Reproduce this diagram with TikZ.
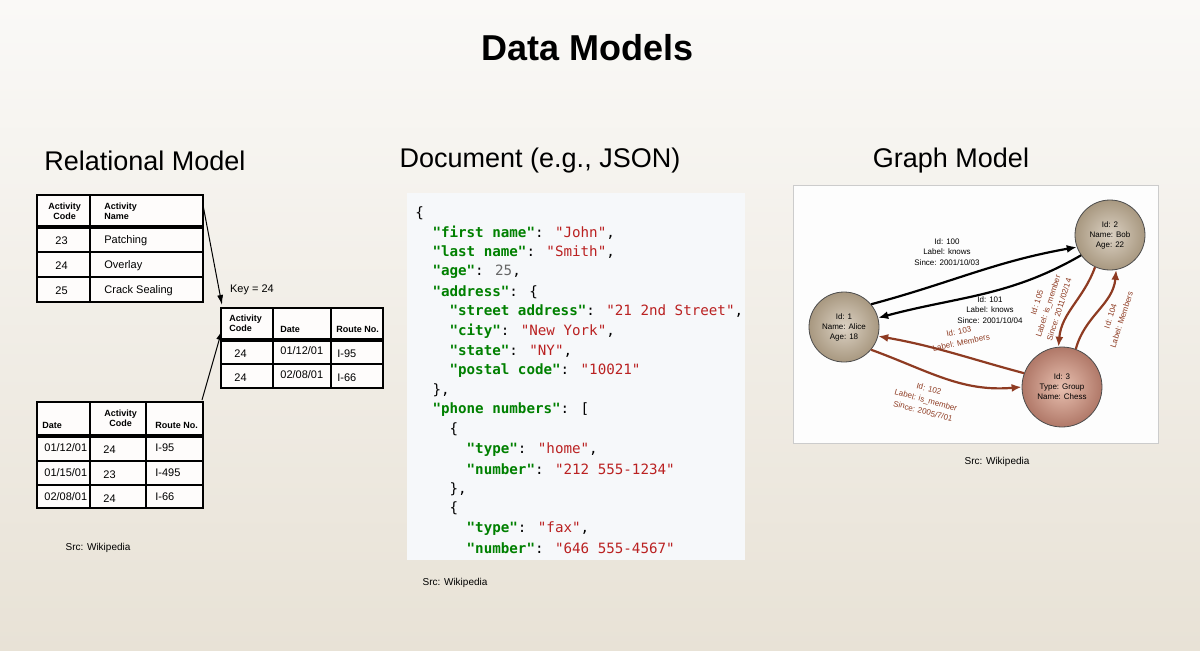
\documentclass[tikz,border=0pt]{standalone}
\usepackage{fontspec}
\setmainfont{Liberation Sans}
\newfontfamily\jmono{DejaVu Sans Mono}
\usetikzlibrary{arrows.meta}
\definecolor{jkey}{HTML}{008000}
\definecolor{jstr}{HTML}{BA2121}
\definecolor{jnum}{HTML}{666666}
\definecolor{brn}{HTML}{8E3B22}
\definecolor{gin}{HTML}{DCD2C4}
\definecolor{gout}{HTML}{A89880}
\definecolor{cin}{HTML}{E8C0B0}
\definecolor{cout}{HTML}{B07868}
\tikzset{
 cell/.style={font=\fontsize{5.5}{6}\selectfont,inner sep=0pt,align=left,anchor=west},
 tbl/.style={draw=black,line width=0.6pt,fill=white!85!brown!15},
 hd/.style={font=\fontsize{13.5}{15}\selectfont},
 src/.style={font=\fontsize{5}{6}\selectfont},
 gn/.style={circle,draw=gray!60!black,line width=0.4pt,font=\fontsize{4}{5}\selectfont,align=center,inner sep=0pt},
 gl/.style={font=\fontsize{4}{5.2}\selectfont,align=center,inner sep=0pt},
 glr/.style={font=\fontsize{4}{5.8}\selectfont,align=center,inner sep=0pt,text=brn},
 ka/.style={-{Latex[length=5pt,width=4pt]},line width=1.1pt},
 ba/.style={-{Latex[length=5pt,width=4pt]},line width=1.1pt,draw=brn},
}
\begin{document}
\begin{tikzpicture}[x=0.5pt,y=-0.5pt]
\shade[top color={rgb,255:red,250;green,249;blue,247}, bottom color={rgb,255:red,232;green,226;blue,214}] (0,0) rectangle (1200,650);
\useasboundingbox (0,0) rectangle (1200,650);
\node[font=\bfseries\fontsize{18}{20}\selectfont] (title) at (588,48) {Data Models};
\node[hd] (h1) at (145,161) {Relational Model};
\node[hd] (h2) at (540,161) {Document (e.g., JSON)};
\node[hd] (h3) at (951,161) {Graph Model};
% table 1
\node[tbl,minimum width=83pt,minimum height=53.5pt,inner sep=0pt] (t1) at (120,248.5) {};
\draw[line width=0.6pt] (90,195)--(90,302) (37,252)--(203,252) (37,277)--(203,277);
\draw[line width=2pt] (37,227)--(203,227);
\node[cell,font=\bfseries\fontsize{4.5}{5}\selectfont,align=center] at (48,211) {Activity\\Code};
\node[cell,font=\bfseries\fontsize{4.5}{5}\selectfont] at (104,211) {Activity\\Name};
\foreach \y/\a/\b in {241/23/Patching,266/24/Overlay,291/25/Crack Sealing}{
 \node[cell] at (55,\y) {\a}; \node[cell] at (104,\y) {\b};}
% table 2
\node[tbl,minimum width=81pt,minimum height=40pt,inner sep=0pt] (t2) at (302,348) {};
\draw[line width=0.6pt] (273,308)--(273,388) (331,308)--(331,388) (221,364)--(383,364);
\draw[line width=2pt] (221,340)--(383,340);
\node[cell,font=\bfseries\fontsize{4.5}{5}\selectfont] at (229,323) {Activity\\Code};
\node[cell,font=\bfseries\fontsize{4.5}{5}\selectfont] at (280,329) {Date};
\node[cell,font=\bfseries\fontsize{4.5}{5}\selectfont] at (336,329) {Route No.};
\node[cell] at (234,354) {24}; \node[cell] at (280,351) {01/12/01}; \node[cell] at (337,354) {I-95};
\node[cell] at (234,378) {24}; \node[cell] at (280,375) {02/08/01}; \node[cell] at (337,378) {I-66};
\node[font=\fontsize{5.5}{6}\selectfont] (key) at (252,290) {Key = 24};
% table 3
\node[tbl,minimum width=83pt,minimum height=53pt,inner sep=0pt] (t3) at (120,455) {};
\draw[line width=0.6pt] (90,402)--(90,508) (146,402)--(146,508) (37,461)--(203,461) (37,485)--(203,485);
\draw[line width=2pt] (37,436)--(203,436);
\node[cell,font=\bfseries\fontsize{4.5}{5}\selectfont] at (42,425) {Date};
\node[cell,font=\bfseries\fontsize{4.5}{5}\selectfont,align=center] at (104,418) {Activity\\Code};
\node[cell,font=\bfseries\fontsize{4.5}{5}\selectfont] at (155,425) {Route No.};
\foreach \y/\a/\b/\c in {448/01\slash12\slash01/24/I-95,473/01\slash15\slash01/23/I-495,497/02\slash08\slash01/24/I-66}{
 \node[cell] at (44,\y) {\a}; \node[cell] at (103,\y+2) {\b}; \node[cell] at (155,\y) {\c};}
\coordinate (a1) at (203,205); \coordinate (a1e) at (222,305);
\coordinate (a2) at (202,400); \coordinate (a2e) at (222,330);
\draw[-{Latex[length=5pt,width=3pt]},line width=0.5pt] (a1)--(a1e);
\draw[-{Latex[length=5pt,width=3pt]},line width=0.5pt] (a2)--(a2e);
\node[src] (s1) at (98,548) {Src: Wikipedia};
% JSON
\node[fill={rgb,255:red,246;green,248;blue,250},minimum width=169pt,minimum height=183.5pt,inner sep=0pt] (jbox) at (576,376.5) {};
\begin{scope}[every node/.style={anchor=west,inner sep=0pt,font=\jmono\fontsize{7.1}{8}\selectfont}]
\def\K#1{\textcolor{jkey}{\bfseries"#1"}}
\def\S#1{\textcolor{jstr}{"#1"}}
\node at (415,213) {\{};
\node at (415,232.7) {\ \ \K{first name}: \S{John},};
\node at (415,252.4) {\ \ \K{last name}: \S{Smith},};
\node at (415,272.1) {\ \ \K{age}: \textcolor{jnum}{25},};
\node at (415,291.8) {\ \ \K{address}: \{};
\node at (415,311.5) {\ \ \ \ \K{street address}: \S{21 2nd Street},};
\node at (415,331.2) {\ \ \ \ \K{city}: \S{New York},};
\node at (415,350.9) {\ \ \ \ \K{state}: \S{NY},};
\node at (415,370.6) {\ \ \ \ \K{postal code}: \S{10021}};
\node at (415,390.3) {\ \ \},};
\node at (415,410) {\ \ \K{phone numbers}: [};
\node at (415,429.7) {\ \ \ \ \{};
\node at (415,449.4) {\ \ \ \ \ \ \K{type}: \S{home},};
\node at (415,469.1) {\ \ \ \ \ \ \K{number}: \S{212 555-1234}};
\node at (415,488.8) {\ \ \ \ \},};
\node at (415,508.5) {\ \ \ \ \{};
\node at (415,528.2) {\ \ \ \ \ \ \K{type}: \S{fax},};
\node at (415,547.9) {\ \ \ \ \ \ \K{number}: \S{646 555-4567}};
\end{scope}
\node[src] (s2) at (455,583) {Src: Wikipedia};
% graph
\node[draw=gray!40,fill=white!70!gray!5,minimum width=182.5pt,minimum height=129pt,inner sep=0pt] (gbox) at (975.5,314) {};
\node[gn,minimum size=35pt,inner color=gin,outer color=gout] (alice) at (844,327) {Id: 1\\Name: Alice\\Age: 18};
\node[gn,minimum size=35pt,inner color=gin,outer color=gout] (bob) at (1110,235) {Id: 2\\Name: Bob\\Age: 22};
\node[gn,minimum size=40pt,inner color=cin,outer color=cout] (chess) at (1062,387) {Id: 3\\Type: Group\\Name: Chess};
\draw[ka] (alice.40) to[out=15,in=190] (bob.200);
\draw[ka] (bob.215) to[out=210,in=15] (alice.15);
\draw[ba] (chess.160) to[out=165,in=-10] (alice.-15);
\draw[ba] (alice.-40) to[out=-20,in=185] (chess.180);
\draw[ba] (bob.245) to[out=250,in=85] (chess.95);
\draw[ba] (chess.70) to[out=75,in=-95] (bob.-80);
\node[gl] (l100) at (947,252) {Id: 100\\Label: knows\\Since: 2001/10/03};
\node[gl] (l101) at (990,310) {Id: 101\\Label: knows\\Since: 2001/10/04};
\node[glr,rotate=12] (l103) at (960,337) {Id: 103\\Label: Members};
\node[glr,rotate=-15] (l102) at (926,400) {Id: 102\\Label: is\_member\\Since: 2005/7/01};
\node[glr,rotate=72] (l105) at (1048,306) {Id: 105\\Label: is\_member\\Since: 2011/02/14};
\node[glr,rotate=72] (l104) at (1116,318) {Id: 104\\Label: Members};
\node[src] (s3) at (997,462) {Src: Wikipedia};
\end{tikzpicture}
\end{document}
